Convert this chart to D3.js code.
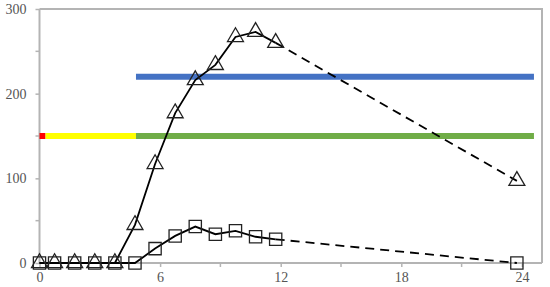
<!DOCTYPE html>
<html>
<head>
<meta charset="utf-8">
<script src="https://cdn.jsdelivr.net/npm/d3@7"></script>
<style>
  html, body { margin: 0; padding: 0; background: #fff; }
  svg { display: block; }
</style>
</head>
<body>
<svg id="chart" width="550" height="287"></svg>
<script>
// ---- data ----
const timePoints = [0, 0.75, 1.75, 2.75, 3.75, 4.75, 5.75, 6.75, 7.75, 8.75, 9.75, 10.75, 11.75, 23.75];
const triangleSeries = [0, 0, 0, 0, 0, 45, 117, 177, 216, 234, 267, 273, 260, 97];
const squareSeries   = [0, 0, 0, 0, 0, 0, 17, 32, 43, 34, 38, 31, 28, 0];
const dashedFromIndex = 12;

const bandStart = [0, 0.3, 4.8, 4.8];
const bandEnd   = [0.3, 4.8, 24.6, 24.6];
const bandLevel = [150, 150, 150, 220];
const bandColors = ["#ff0000", "#ffff00", "#70ad47", "#4472c4"];

const xTickValues = [0, 6, 12, 18, 24];
const xMinorTicks = [3, 9, 15, 21];
const yTickValues = [0, 100, 200, 300];
const yMinorTicks = [50, 150, 250];

// ---- layout ----
const svg = d3.select("#chart");
const mLeft = 39.5, mRight = 542, mTop = 9, mBottom = 263;
const x = d3.scaleLinear().domain([0, 25]).range([mLeft, mRight]);
const y = d3.scaleLinear().domain([0, 300]).range([mBottom, mTop]);
const axisColor = "#b4b4b4";
const labelColor = "#555";
const font = "'Liberation Serif', 'Times New Roman', serif";

// frame (top and right borders)
svg.append("path")
  .attr("d", `M${mLeft},${mTop}H${mRight}V${mBottom}`)
  .attr("fill", "none").attr("stroke", axisColor).attr("stroke-width", 2);

// y axis
const yAxis = d3.axisLeft(y).tickValues(yTickValues).tickSize(4).tickPadding(9);
const gy = svg.append("g").attr("transform", `translate(${mLeft},0)`).call(yAxis);
gy.append("g").selectAll("line").data(yMinorTicks).join("line")
  .attr("x1", -4).attr("x2", 0).attr("y1", d => y(d)).attr("y2", d => y(d));
gy.selectAll("line").attr("stroke", axisColor).attr("stroke-width", 1.5);
gy.select(".domain").attr("stroke", axisColor).attr("stroke-width", 2).attr("d", `M0,${mTop}V${mBottom}`);
gy.selectAll("text").attr("fill", labelColor).style("font-family", font).style("font-size", "14px");

// x axis
const xAxis = d3.axisBottom(x).tickValues(xTickValues).tickSize(4).tickPadding(5);
const gx = svg.append("g").attr("transform", `translate(0,${mBottom})`).call(xAxis);
gx.append("g").selectAll("line").data(xMinorTicks).join("line")
  .attr("y1", 0).attr("y2", 4).attr("x1", d => x(d)).attr("x2", d => x(d));
gx.selectAll("line").attr("stroke", axisColor).attr("stroke-width", 1.5);
gx.select(".domain").attr("stroke", axisColor).attr("stroke-width", 2).attr("d", `M${mLeft},0H${mRight}`);
gx.selectAll("text").attr("fill", labelColor).style("font-family", font).style("font-size", "14px");

// horizontal bands
svg.append("g").selectAll("line").data(bandLevel).join("line")
  .attr("x1", (d, i) => x(bandStart[i]))
  .attr("x2", (d, i) => x(bandEnd[i]))
  .attr("y1", d => y(d)).attr("y2", d => y(d))
  .attr("stroke", (d, i) => bandColors[i])
  .attr("stroke-width", 6);

// series lines
const line = d3.line().x(d => x(d[0])).y(d => y(d[1]));
function drawSeries(values) {
  const pts = timePoints.map((t, i) => [t, values[i]]);
  svg.append("path").attr("d", line(pts.slice(0, dashedFromIndex + 1)))
    .attr("fill", "none").attr("stroke", "#000").attr("stroke-width", 1.8);
  svg.append("path").attr("d", line(pts.slice(dashedFromIndex)))
    .attr("fill", "none").attr("stroke", "#000").attr("stroke-width", 1.8)
    .attr("stroke-dasharray", "9,6");
  return pts;
}
const triPts = drawSeries(triangleSeries);
const sqPts = drawSeries(squareSeries);

// markers
svg.append("g").selectAll("path").data(sqPts).join("path")
  .attr("transform", d => `translate(${x(d[0])},${y(d[1])})`)
  .attr("d", d3.symbol(d3.symbolSquare, 150)())
  .attr("fill", "none").attr("stroke", "#222").attr("stroke-width", 1.3);
svg.append("g").selectAll("path").data(triPts).join("path")
  .attr("transform", d => `translate(${x(d[0])},${y(d[1])})`)
  .attr("d", d3.symbol(d3.symbolTriangle, 110)())
  .attr("fill", "none").attr("stroke", "#222").attr("stroke-width", 1.3);
</script>
</body>
</html>
